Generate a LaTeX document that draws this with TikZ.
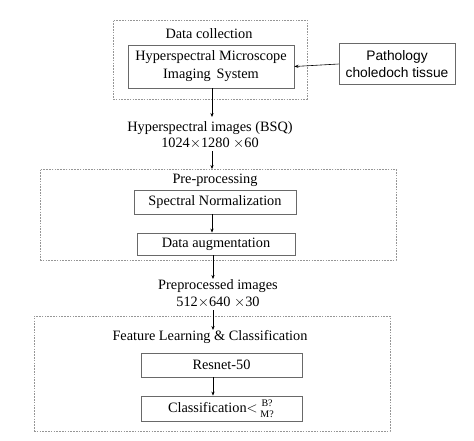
\documentclass[tikz,border=0pt]{standalone}
\usepackage{amsmath}
\usepackage{fontspec}
\setmainfont{Liberation Serif}
\newfontfamily\sansf{Liberation Sans}
\usetikzlibrary{arrows.meta}
\definecolor{boxgray}{RGB}{105,105,105}
\definecolor{dashgray}{RGB}{150,150,150}
\newcommand{\bmstack}{\genfrac{}{}{0pt}{}{\text{B?}}{\text{M?}}}
\tikzset{
  solidbox/.style={draw=boxgray, line width=0.8pt, inner sep=0pt, align=center, font=\fontsize{14.3}{16.5}\selectfont},
  dashbox/.style={draw=dashgray, line width=1pt, dash pattern=on 1.6pt off 1.2pt, inner sep=0pt},
  lbl/.style={inner sep=0pt, align=center, font=\fontsize{14.3}{16.5}\selectfont},
  arr/.style={draw=black, line width=0.6pt, -{Stealth[length=4pt,width=3.2pt]}}
}
\begin{document}
\begin{tikzpicture}[x=1pt,y=-1pt]
\useasboundingbox (0,0) rectangle (474,440);
% dashed groups
\node[dashbox, minimum width=194pt, minimum height=79pt] (g1) at (210,59.5) {};
\node[dashbox, minimum width=356pt, minimum height=91pt] (g2) at (218,214.5) {};
\node[dashbox, minimum width=356pt, minimum height=115pt] (g3) at (212,373.5) {};
% group labels
\node[lbl] (l1) at (209,34) {Data collection};
\node[lbl] (l2) at (215,180) {Pre-processing};
\node[lbl] (l3) at (210,337) {Feature Learning \& Classification};
% boxes
\node[solidbox, minimum width=166pt, minimum height=43pt, font=\fontsize{14.3}{18}\selectfont] (hmis) at (211,66.5) {Hyperspectral Microscope\\Imaging\, System};
\node[solidbox, minimum width=116pt, minimum height=41pt, font=\sansf\fontsize{13.8}{17}\selectfont] (path) at (397,64) {Pathology\\choledoch tissue};
\node[solidbox, minimum width=162pt, minimum height=24pt] (sn) at (215,202) {Spectral Normalization};
\node[solidbox, minimum width=158pt, minimum height=22pt] (da) at (216,244) {Data augmentation};
\node[solidbox, minimum width=161pt, minimum height=24pt] (rn) at (221.5,365) {Resnet-50};
\node[solidbox, minimum width=161pt, minimum height=25pt] (cl) at (221.5,408.5) {Classification$<\!\bmstack$};
% data texts
\node[lbl] (hs) at (210,135) {Hyperspectral images (BSQ)\\1024$\times$1280 $\times$60};
\node[lbl] (pp) at (218,293.5) {Preprocessed images\\512$\times$640 $\times$30};
% arrows
\draw[arr] (path.west) -- (hmis.east);
\draw[arr] (hmis.south -| 212,0) -- (212,117);
\draw[arr] (212,151) -- (212,169);
\draw[arr] (sn.south -| 212,0) -- (da.north -| 212,0);
\draw[arr] (da.south -| 213,0) -- (213,279);
\draw[arr] (213,310) -- (213,330);
\draw[arr] (rn.south -| 213,0) -- (cl.north -| 213,0);
\end{tikzpicture}
\end{document}
